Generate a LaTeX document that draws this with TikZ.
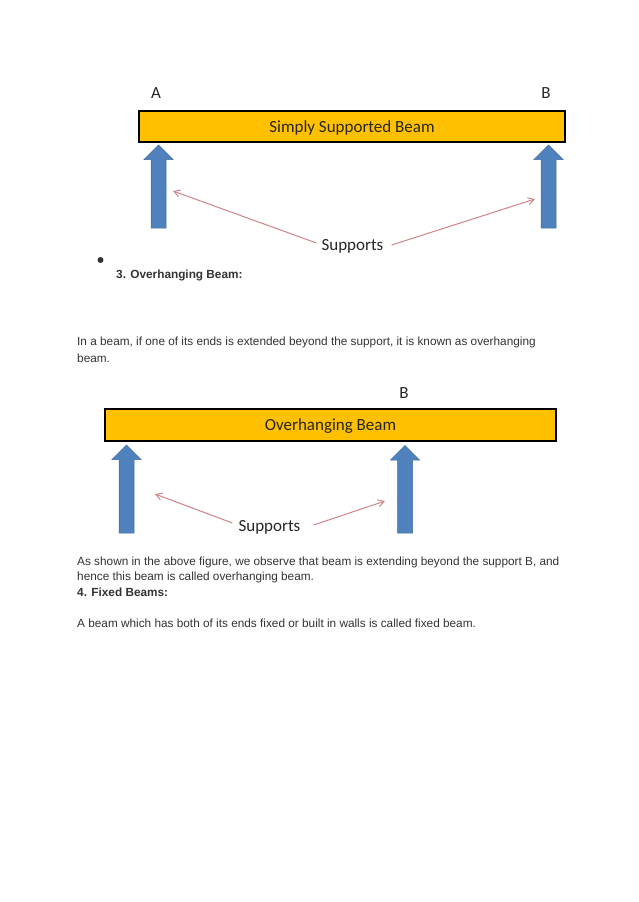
\documentclass[tikz,border=0pt]{standalone}
\usepackage{fontspec}
\setmainfont{Liberation Sans}
\newfontfamily\calfont{Carlito}
\usetikzlibrary{arrows.meta}
\definecolor{beamfill}{HTML}{FFC000}
\definecolor{arrowfill}{HTML}{4F81BD}
\definecolor{arrowedge}{HTML}{3F6A9C}
\definecolor{pointer}{HTML}{D0838A}
\definecolor{inktext}{HTML}{333333}
\tikzset{
  beambox/.style={draw=black,fill=beamfill,line width=2pt,inner sep=0pt,text depth=0pt,font=\calfont\fontsize{17}{18}\selectfont,text=black!85},
  lettertag/.style={inner sep=0pt,font=\calfont\fontsize{17}{18}\selectfont,text=black!85},
  supporttag/.style={inner sep=2pt,text depth=0pt,font=\calfont\fontsize{17}{18}\selectfont,text=black!85},
  pointerline/.style={draw=pointer,line width=1pt,-{Straight Barb[length=6pt,width=7pt]}},
  bodytext/.style={anchor=west,inner sep=0pt,text=inktext,font=\fontsize{11.8}{14}\selectfont},
  boldtext/.style={bodytext,font=\fontsize{11.8}{14}\selectfont\bfseries},
  uparrow/.style={draw=arrowedge,fill=arrowfill,line width=0.5pt,line join=miter},
}
\newcommand{\supportarrow}[3]{% tip x, tip y, bottom y
  \draw[uparrow] (#1,#2) -- (#1+14.5,#2+14.5) -- (#1+7.5,#2+14.5) -- (#1+7.5,#3)
    -- (#1-7.5,#3) -- (#1-7.5,#2+14.5) -- (#1-14.5,#2+14.5) -- cycle;}
\begin{document}
\begin{tikzpicture}[x=1pt,y=-1pt]
\useasboundingbox (0,0) rectangle (638,902);
\fill[white] (0,0) rectangle (638,902);
% first figure
\node[lettertag] (a1) at (156,93.5) {A};
\node[lettertag] (b1) at (546,93.5) {B};
\node[beambox,minimum width=426pt,minimum height=31pt] (beam1) at (352,126.5) {Simply Supported Beam};
\supportarrow{158.5}{145}{228}
\supportarrow{548.5}{145}{228}
\node[supporttag] (sup1) at (352.5,245) {Supports};
\coordinate (p1a) at (173,191);
\coordinate (p1b) at (535,199);
\draw[pointerline] (sup1.west) ++(-3,-2) -- (p1a);
\draw[pointerline] (sup1.east) ++(6,0) -- (p1b);
% text
\fill[inktext] (100.5,260) circle (3pt);
\node[boldtext] (h3) at (116,275) {3. Overhanging Beam:};
\node[bodytext] (t1) at (77,342.5) {In a beam, if one of its ends is extended beyond the support, it is known as overhanging};
\node[bodytext] (t2) at (77,358) {beam.};
% second figure
\node[lettertag] (b2) at (404,393) {B};
\node[beambox,minimum width=451pt,minimum height=32pt] (beam2) at (330.5,425) {Overhanging Beam};
\supportarrow{126.5}{445}{533}
\supportarrow{405}{445.5}{533}
\node[supporttag] (sup2) at (269.5,526) {Supports};
\coordinate (p2a) at (155,494);
\coordinate (p2b) at (385,501);
\draw[pointerline] (sup2.west) ++(-4,-3) -- (p2a);
\draw[pointerline] (sup2.east) ++(11,-1) -- (p2b);
% closing text
\node[bodytext] (t3) at (77,562) {As shown in the above figure, we observe that beam is extending beyond the support B, and};
\node[bodytext] (t4) at (77,577) {hence this beam is called overhanging beam.};
\node[boldtext] (h4) at (77,592.5) {4. Fixed Beams:};
\node[bodytext] (t5) at (77,623) {A beam which has both of its ends fixed or built in walls is called fixed beam.};
\end{tikzpicture}
\end{document}
